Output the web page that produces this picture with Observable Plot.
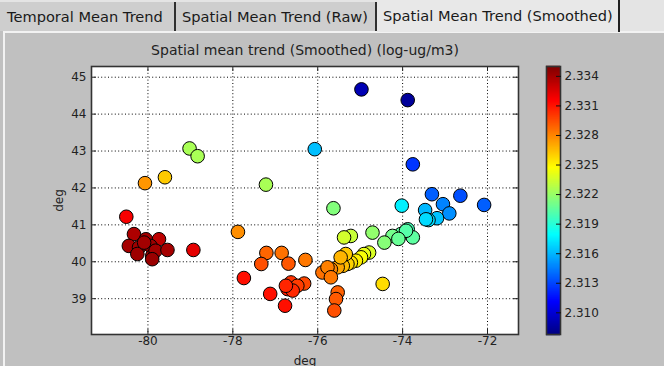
<!DOCTYPE html>
<html><head><meta charset="utf-8">
<script src="https://cdn.jsdelivr.net/npm/d3@7"></script>
<script src="https://cdn.jsdelivr.net/npm/@observablehq/plot@0.6"></script>
<style>
html,body{margin:0;padding:0;}
body{width:664px;height:366px;overflow:hidden;background:#c0c0c0;position:relative;font-family:"DejaVu Sans",sans-serif;}
#tabbar{position:absolute;left:0;top:0;width:664px;height:31px;background:#e4e4e4;z-index:2;}
.tab{position:absolute;box-sizing:border-box;font-size:14.6px;color:#1a1a1a;white-space:nowrap;}
#leftedge{position:absolute;left:3px;top:31px;width:2px;height:335px;background:#f2f2f2;}
#topedge{position:absolute;left:3px;top:31px;width:661px;height:2px;background:#f2f2f2;z-index:1;}
.chart{position:absolute;top:0;}
</style></head>
<body>
<div id="tabbar">
  <div class="tab" style="left:0;top:2px;width:176px;height:29px;background:#cecece;border-right:2px solid #303030;padding-left:7px;line-height:29px;">Temporal Mean Trend</div>
  <div class="tab" style="left:176px;top:2px;width:201px;height:29px;background:#cecece;border-right:2px solid #303030;padding-left:6px;line-height:29px;">Spatial Mean Trend (Raw)</div>
  <div class="tab" style="left:377px;top:0;width:243px;height:32px;background:#e8e8e8;border-right:2px solid #202020;padding-left:6px;line-height:32px;">Spatial Mean Trend (Smoothed)</div>
</div>
<div id="leftedge"></div>
<div id="topedge"></div>
<div id="main" class="chart" style="left:0"></div>
<div id="cbar" class="chart" style="left:540px"></div>
<script>
// ---- data ----
const lon = [
  -74.97, -73.88, -73.76, -76.07, -79.02, -78.83, -79.60, -80.07, -77.22, -75.63,
  -74.02, -73.31, -72.64, -72.08, -73.05, -72.90, -73.47, -73.19, -73.39, -73.45,
  -73.88, -73.76, -74.04, -74.24, -74.43, -74.71, -75.22, -75.38, -73.92, -74.10,
  -74.79, -74.91, -74.98, -75.10, -75.22, -75.30, -75.41, -75.53, -75.69, -75.81,
  -75.89, -75.77, -75.69, -74.47, -75.53, -75.57, -75.61, -75.34, -75.46,
  -77.88, -77.21, -76.85, -77.33, -76.69, -76.29, -77.74, -77.12, -76.77, -76.63,
  -76.32, -76.48, -76.71, -76.59, -76.75,
  -80.51, -80.33, -80.45, -80.21, -80.05, -79.74, -79.94, -79.90, -80.25, -79.82,
  -80.09, -79.54, -78.93, -79.90
];
const lat = [
  44.67, 44.38, 42.64, 43.05, 43.07, 42.86, 42.29, 42.13, 42.09, 41.45,
  41.52, 41.83, 41.79, 41.54, 41.56, 41.31, 41.40, 41.18, 41.13, 41.15,
  40.88, 40.66, 40.75, 40.70, 40.52, 40.79, 40.70, 40.66, 40.84, 40.62,
  40.25, 40.21, 40.12, 40.03, 39.98, 39.94, 39.89, 39.85, 39.80, 39.76,
  39.71, 39.85, 39.58, 39.40, 39.17, 38.99, 38.68, 40.21, 40.12,
  40.81, 40.24, 40.24, 39.94, 39.95, 40.05, 39.56, 39.13, 38.81, 39.44,
  39.41, 39.35, 39.26, 39.22, 39.35,
  41.22, 40.75, 40.43, 40.39, 40.61, 40.61, 40.43, 40.16, 40.21, 40.30,
  40.52, 40.32, 40.32, 40.07
];
const val = [
  2.3092, 2.3085, 2.3126, 2.3163, 2.3225, 2.3225, 2.3262, 2.3276, 2.3225, 2.3215,
  2.3176, 2.3137, 2.3133, 2.3137, 2.3147, 2.3150, 2.3161, 2.3164, 2.3172, 2.3170,
  2.3199, 2.3205, 2.3205, 2.3211, 2.3216, 2.3219, 2.3233, 2.3236, 2.3203, 2.3208,
  2.3238, 2.3242, 2.3246, 2.3252, 2.3256, 2.3260, 2.3266, 2.3272, 2.3280, 2.3284,
  2.3286, 2.3282, 2.3284, 2.3257, 2.3290, 2.3292, 2.3295, 2.3262, 2.3268,
  2.3278, 2.3289, 2.3286, 2.3295, 2.3293, 2.3284, 2.3312, 2.3312, 2.3312, 2.3303,
  2.3297, 2.3300, 2.3308, 2.3305, 2.3306,
  2.3318, 2.3338, 2.3340, 2.3342, 2.3340, 2.3334, 2.3342, 2.3343, 2.3342, 2.3341,
  2.3341, 2.3340, 2.3323, 2.3343
];
const xTicks = [-80, -78, -76, -74, -72];
const yTicks = [39, 40, 41, 42, 43, 44, 45];
const cbTicks = [2.310, 2.313, 2.316, 2.319, 2.322, 2.325, 2.328, 2.331, 2.334];
const xDomain = [-81.33, -71.27];
const yDomain = [38.03, 45.29];
const colorDomain = [2.3078, 2.3350];
const jetStops = [0, 0.125, 0.375, 0.625, 0.875, 1];
const jetColors = ["#000080", "#0000ff", "#00ffff", "#ffff00", "#ff0000", "#800000"];
const title = "Spatial mean trend (Smoothed) (log-ug/m3)";

const points = lon.map((d, i) => ({lon: d, lat: lat[i], val: val[i]}));
const colorStopValues = jetStops.map(t => colorDomain[0] + t * (colorDomain[1] - colorDomain[0]));
const colorScale = {type: "linear", domain: colorStopValues, range: jetColors, interpolate: "rgb"};

const W = 664, H = 366, mL = 91, mR = 146, mT = 66, mB = 32;
const FW = W - mL - mR, FH = H - mT - mB;
const font = {background: "transparent", fontFamily: "DejaVu Sans, sans-serif", fontSize: "12px", color: "#222", overflow: "visible"};
const grid = {stroke: "#000", strokeOpacity: 1, strokeWidth: 1, strokeDasharray: "1,2.4"};

const main = Plot.plot({
  width: W, height: H, marginLeft: mL, marginRight: mR, marginTop: mT, marginBottom: mB,
  style: font,
  x: {domain: xDomain},
  y: {domain: yDomain},
  color: colorScale,
  marks: [
    Plot.frame({fill: "white", stroke: null}),
    Plot.gridX(xTicks, grid),
    Plot.gridY(yTicks, grid),
    Plot.tickX(xTicks, {x: d => d, insetTop: FH - 5, stroke: "#222"}),
    Plot.tickX(xTicks, {x: d => d, insetBottom: FH - 5, stroke: "#222"}),
    Plot.tickY(yTicks, {y: d => d, insetRight: FW - 5, stroke: "#222"}),
    Plot.tickY(yTicks, {y: d => d, insetLeft: FW - 5, stroke: "#222"}),
    Plot.dot(points, {x: "lon", y: "lat", fill: "val", r: 6.8, stroke: "#000", strokeWidth: 1}),
    Plot.frame({stroke: "#333", strokeWidth: 1.6}),
    Plot.axisX(xTicks, {tickSize: 0, tickPadding: 2, tickFormat: d => String(d), label: "deg", labelAnchor: "center", labelArrow: "none", labelOffset: 30}),
    Plot.axisY(yTicks, {tickSize: 0, tickPadding: 5, tickFormat: d => String(d), label: "deg", labelAnchor: "center", labelArrow: "none", labelOffset: 37}),
    Plot.text([title], {frameAnchor: "top", dy: -16, lineAnchor: "middle", fontSize: 14, fill: "#222"})
  ]
});
document.getElementById("main").appendChild(main);

const cbValues = d3.range(0, 401).map(i => colorDomain[0] + (colorDomain[1] - colorDomain[0]) * i / 400);
const cb = Plot.plot({
  width: 124, height: H, marginLeft: 6, marginRight: 104, marginTop: mT, marginBottom: mB,
  style: font,
  y: {domain: colorDomain},
  color: colorScale,
  marks: [
    Plot.ruleY(cbValues, {y: d => d, stroke: d => d, strokeWidth: 1.5}),
    Plot.frame({stroke: "#333", strokeWidth: 1.6}),
    Plot.axisY(cbTicks, {anchor: "right", tickSize: 5, dx: -5, tickPadding: 4, tickFormat: d3.format(".3f"), label: null, stroke: "#111"})
  ]
});
document.getElementById("cbar").appendChild(cb);
</script>
</body></html>
